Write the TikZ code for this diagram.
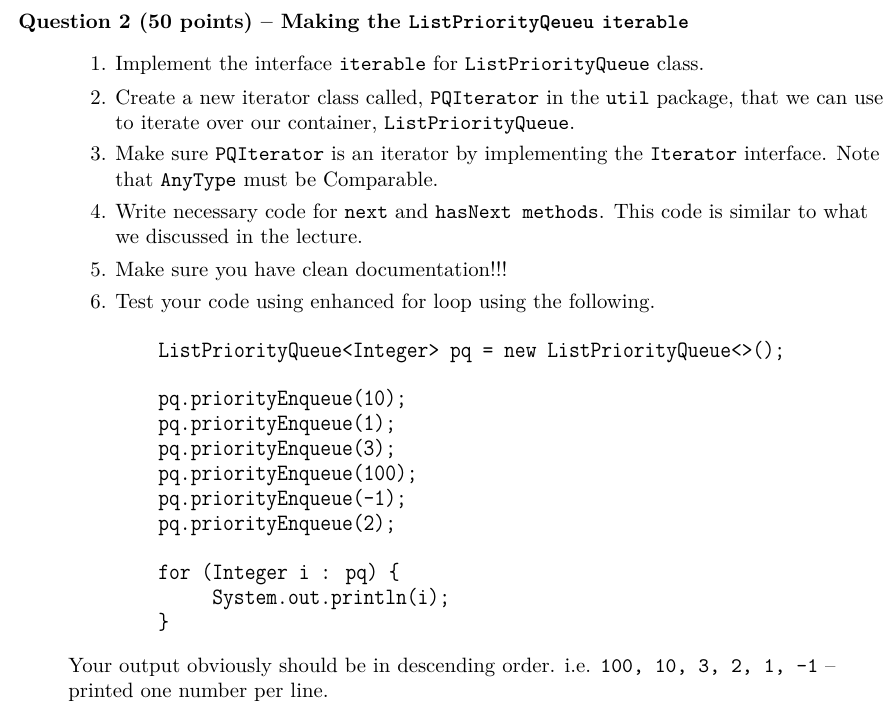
\documentclass[tikz,border=0pt]{standalone}
\begin{document}
\begin{tikzpicture}[x=0.482pt,y=-0.482pt,
  t/.style={anchor=base west,inner sep=0pt,font=\normalsize},
  num/.style={anchor=base east,inner sep=0pt,font=\normalsize},
  code/.style={anchor=base west,inner sep=0pt,font=\fontsize{11.3}{13}\ttfamily,xscale=0.895,transform shape}]
\useasboundingbox[fill=white] (0,0) rectangle (895,715);
\node[t,font=\normalsize\bfseries] (title) at (18,28) {Question 2 (50 points) -- Making the \texttt{ListPriorityQeueu} \texttt{iterable}};
\node[num] (n1) at (107,70) {1.};
\node[t] (i1) at (115,70) {Implement the interface \texttt{iterable} for \texttt{ListPriorityQueue} class.};
\node[num] (n2) at (107,104) {2.};
\node[t] (i2a) at (115,104) {Create a new iterator class called, \texttt{PQIterator} in the \texttt{util} package, that we can use};
\node[t] (i2b) at (115,129) {to iterate over our container, \texttt{ListPriorityQueue}.};
\node[num] (n3) at (107,160) {3.};
\node[t] (i3a) at (115,160) {Make sure \texttt{PQIterator} is an iterator by implementing the \texttt{Iterator} interface. Note};
\node[t] (i3b) at (115,186) {that \texttt{AnyType} must be Comparable.};
\node[num] (n4) at (107,218) {4.};
\node[t] (i4a) at (115,218) {Write necessary code for \texttt{next} and \texttt{hasNext methods}. This code is similar to what};
\node[t] (i4b) at (115,243) {we discussed in the lecture.};
\node[num] (n5) at (107,276) {5.};
\node[t] (i5) at (115,276) {Make sure you have clean documentation!!!};
\node[num] (n6) at (107,308) {6.};
\node[t] (i6) at (115,308) {Test your code using enhanced for loop using the following.};
\node[code] (c1) at (158,357) {ListPriorityQueue<Integer> pq = new ListPriorityQueue<>();};
\node[code] (c2) at (158,405) {pq.priorityEnqueue(10);};
\node[code] (c3) at (158,430) {pq.priorityEnqueue(1);};
\node[code] (c4) at (158,455) {pq.priorityEnqueue(3);};
\node[code] (c5) at (158,480) {pq.priorityEnqueue(100);};
\node[code] (c6) at (158,505) {pq.priorityEnqueue(-1);};
\node[code] (c7) at (158,530) {pq.priorityEnqueue(2);};
\node[code] (c8) at (158,579) {for (Integer i : pq) \{};
\node[code] (c9) at (212,604) {System.out.println(i);};
\node[code] (c10) at (158,629) {\}};
\node[t] (p1) at (68,672) {Your output obviously should be in descending order. i.e. \texttt{100, 10, 3, 2, 1, -1} --};
\node[t] (p2) at (68,697) {printed one number per line.};
\end{tikzpicture}
\end{document}
